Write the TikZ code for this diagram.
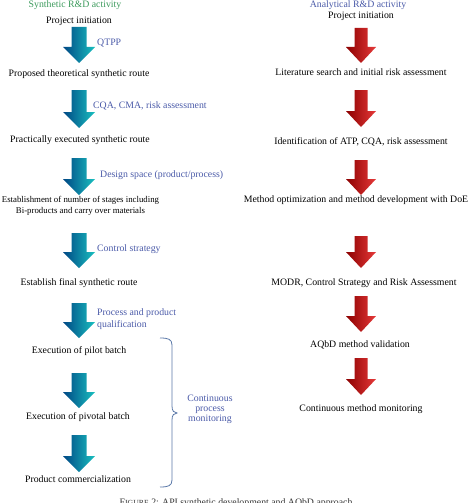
\documentclass[tikz,border=0pt]{standalone}
\usepackage{fontspec}
\setmainfont{Liberation Serif}
\definecolor{hgreen}{HTML}{3C9A5C}
\definecolor{lblue}{HTML}{4A5AA8}
\definecolor{bracecol}{HTML}{5A78A8}
\newcommand{\bkarrow}[6]{%
  \shade[#4] ({#1-#5},#2) -- ({#1+#5},#2) -- ({#1+#5},{#3-16}) -- ({#1+#6},{#3-16})
    -- (#1,#3) -- ({#1-#6},{#3-16}) -- ({#1-#5},{#3-16}) -- cycle;}
\begin{document}
\begin{tikzpicture}[x=1pt,y=-1pt,
  font=\fontsize{9.8}{11}\selectfont,
  txt/.style={inner sep=0pt, anchor=mid},
  blu/.style={txt, text=lblue},
  tealshade/.style={left color=teal!70!blue!80!black, right color=cyan!45!teal!90!white},
  redshade/.style={left color=red!55!black, right color=red!75!white!90!black},
]
\useasboundingbox (0,0) rectangle (474,503);
% headings
\node[txt, text=hgreen] (hs) at (75,5) {Synthetic R\&D activity};
\node[txt, text=lblue] (ha) at (358,5) {Analytical R\&D activity};
% left column
\node[txt] (s1) at (79,21) {Project initiation};
\node[txt] (s2) at (79,74) {Proposed theoretical synthetic route};
\node[txt] (s3) at (80,140) {Practically executed synthetic route};
\node[inner sep=0pt, align=center, font=\fontsize{8.8}{11}\selectfont] (s4) at (80.5,205.5) {Establishment of number of stages including\\Bi-products and carry over materials};
\node[txt] (s5) at (79,283) {Establish final synthetic route};
\node[txt] (s6) at (79,351) {Execution of pilot batch};
\node[txt] (s7) at (78,417) {Execution of pivotal batch};
\node[txt] (s8) at (78,480) {Product commercialization};
% left labels
\node[blu, anchor=mid west] (l1) at (97,43) {QTPP};
\node[blu, anchor=mid west] (l2) at (93,106) {CQA, CMA, risk assessment};
\node[blu, anchor=mid west] (l3) at (100,175) {Design space (product/process)};
\node[blu, anchor=mid west] (l4) at (97,249) {Control strategy};
\node[blu, anchor=mid west] (l5a) at (97,313) {Process and product};
\node[blu, anchor=mid west] (l5b) at (97,325) {qualification};
\node[inner sep=0pt, align=center, text=lblue, font=\fontsize{9.8}{10}\selectfont] (cpm) at (210,409.3) {Continuous\\process\\monitoring};
% left arrows
\bkarrow{79}{27}{63}{tealshade}{7.5}{16}
\bkarrow{79}{90}{128}{tealshade}{7.5}{16}
\bkarrow{79}{158}{195}{tealshade}{7.5}{16}
\bkarrow{79}{233}{268}{tealshade}{7.5}{16}
\bkarrow{79}{303}{338}{tealshade}{7.5}{16}
\bkarrow{79}{373}{408}{tealshade}{7.5}{16}
\bkarrow{79}{435}{472}{tealshade}{7.5}{16}
% brace
\draw[bracecol, line width=0.8pt] (160,338) .. controls (168,338) and (172,339) .. (172,345)
  -- (172,406) .. controls (172,411) and (174,413) .. (177,413)
  .. controls (174,413) and (172,415) .. (172,420)
  -- (172,480) .. controls (172,486) and (168,487) .. (160,487);
% right column
\node[txt] (a1) at (361,16) {Project initiation};
\node[txt] (a2) at (361,73) {Literature search and initial risk assessment};
\node[txt] (a3) at (361,142) {Identification of ATP, CQA, risk assessment};
\node[txt] (a4) at (356,200) {Method optimization and method development with DoE};
\node[txt] (a5) at (364,283) {MODR, Control Strategy and Risk Assessment};
\node[txt] (a6) at (360,345) {AQbD method validation};
\node[txt] (a7) at (361,409) {Continuous method monitoring};
% right arrows
\bkarrow{361}{28}{63}{redshade}{6.5}{15}
\bkarrow{361}{90}{127}{redshade}{6.5}{15}
\bkarrow{361}{160}{195}{redshade}{6.5}{15}
\bkarrow{361}{236}{268}{redshade}{6.5}{15}
\bkarrow{361}{296}{332}{redshade}{6.5}{15}
\bkarrow{361}{358}{395}{redshade}{6.5}{15}
% caption (cut off at the bottom, as in the reference)
\node[inner sep=0pt, anchor=base, text=black!80] (cap) at (236,505) {F{\fontsize{7.8}{9}\selectfont IGURE} 2: API synthetic development and AQbD approach};
\end{tikzpicture}
\end{document}
